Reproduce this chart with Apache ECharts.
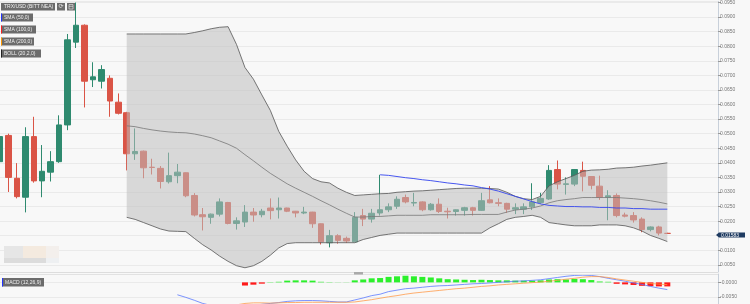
<!DOCTYPE html>
<html>
<head>
<meta charset="utf-8">
<script src="https://cdn.jsdelivr.net/npm/echarts@6.0.0/dist/echarts.min.js"></script>
<style>
html,body{margin:0;padding:0;background:#f8f8f8;}
#chart{width:750px;height:304px;}
</style>
</head>
<body>
<div id="chart"></div>
<script>
// ---- data ----
const categories = Array.from({length: 86}, (_, i) => String(i));

// [open, close, low, high]
const ohlc = [
 [0.0404,0.0490,0.0390,0.0500],[0.0494,0.0350,0.0300,0.0500],[0.0347,0.0284,0.0278,0.0399],[0.0282,0.0490,0.0230,0.0522],
 [0.0490,0.0338,0.0332,0.0558],[0.0338,0.0371,0.0282,0.0461],[0.0368,0.0404,0.0336,0.0440],[0.0404,0.0530,0.0400,0.0563],
 [0.0530,0.0822,0.0512,0.0842],[0.0814,0.0872,0.0794,0.0950],[0.0872,0.0680,0.0590,0.0875],[0.0685,0.0695,0.0660,0.0745],
 [0.0680,0.0720,0.0655,0.0735],[0.0690,0.0612,0.0558,0.0700],[0.0608,0.0570,0.0566,0.0638],[0.0572,0.0431,0.0374,0.0575],
 [0.0431,0.0439,0.0410,0.0518],[0.0440,0.0383,0.0347,0.0442],[0.0385,0.0384,0.0360,0.0414],[0.0381,0.0336,0.0312,0.0389],
 [0.0335,0.0356,0.0329,0.0435],[0.0356,0.0368,0.0330,0.0396],[0.0366,0.0287,0.0282,0.0367],[0.0288,0.0221,0.0216,0.0296],
 [0.0222,0.0215,0.0168,0.0245],[0.0213,0.0224,0.0191,0.0226],[0.0224,0.0266,0.0216,0.0278],[0.0264,0.0192,0.0189,0.0266],
 [0.0192,0.0201,0.0171,0.0213],[0.0197,0.0231,0.0180,0.0255],[0.0231,0.0221,0.0198,0.0245],[0.0222,0.0234,0.0213,0.0242],
 [0.0245,0.0236,0.0206,0.0278],[0.0239,0.0245,0.0209,0.0281],[0.0245,0.0234,0.0231,0.0246],[0.0234,0.0228,0.0213,0.0235],
 [0.0228,0.0231,0.0224,0.0249],[0.0231,0.0191,0.0177,0.0232],[0.0191,0.0129,0.0120,0.0192],[0.0126,0.0150,0.0110,0.0170],
 [0.0150,0.0134,0.0123,0.0155],[0.0141,0.0132,0.0125,0.0147],[0.0129,0.0213,0.0129,0.0231],[0.0219,0.0207,0.0183,0.0242],
 [0.0207,0.0227,0.0195,0.0242],[0.0228,0.0239,0.0219,0.0359],[0.0239,0.0249,0.0231,0.0261],[0.0251,0.0275,0.0242,0.0285],
 [0.0281,0.0266,0.0261,0.0291],[0.0262,0.0264,0.0251,0.0297],[0.0266,0.0239,0.0234,0.0268],[0.0239,0.0258,0.0236,0.0262],
 [0.0258,0.0233,0.0228,0.0278],[0.0234,0.0232,0.0209,0.0246],[0.0233,0.0239,0.0219,0.0240],[0.0237,0.0246,0.0219,0.0249],
 [0.0246,0.0237,0.0219,0.0249],[0.0237,0.0270,0.0235,0.0297],[0.0273,0.0263,0.0261,0.0320],[0.0263,0.0261,0.0251,0.0278],
 [0.0261,0.0241,0.0228,0.0263],[0.0241,0.0246,0.0224,0.0261],[0.0241,0.0249,0.0224,0.0261],[0.0249,0.0266,0.0238,0.0330],
 [0.0264,0.0278,0.0259,0.0297],[0.0276,0.0374,0.0273,0.0392],[0.0377,0.0327,0.0309,0.0408],[0.0326,0.0328,0.0291,0.0350],
 [0.0327,0.0377,0.0320,0.0378],[0.0374,0.0354,0.0302,0.0404],[0.0353,0.0323,0.0309,0.0354],[0.0320,0.0282,0.0273,0.0356],
 [0.0282,0.0287,0.0203,0.0306],[0.0288,0.0219,0.0213,0.0295],[0.0221,0.0217,0.0213,0.0229],[0.0219,0.0204,0.0195,0.0231],
 [0.0207,0.0171,0.0162,0.0213],[0.0171,0.0180,0.0165,0.0182],[0.0180,0.0159,0.0151,0.0184],[0.0158,0.0158,0.0156,0.0160]
];

const bollStart = 15;
const bollUpper = [
 0.0842,0.0842,0.0842,0.0842,0.0842,0.0842,0.0842,0.0842,0.0847,0.0853,0.0860,0.0865,0.0867,
 0.0806,0.0727,0.0687,0.0633,0.0580,0.0508,0.0457,0.0410,0.0371,0.0346,0.0335,0.0331,0.0313,0.0299,
 0.0288,0.0290,0.0292,0.0294,0.0295,0.0299,0.0301,0.0303,0.0304,0.0306,0.0308,0.0310,0.0312,0.0313,0.0313,0.0313,
 0.0312,0.0310,0.0299,0.0285,0.0277,0.0274,0.0285,
 0.0321,0.0335,0.0346,0.0357,0.0371,0.0375,0.0376,0.0378,0.0382,0.0383,0.0385,0.0389,0.0392,0.0396,0.0400
];
const bollMiddle = [
 0.0527,0.0524,0.0518,0.0513,0.0509,0.0506,0.0504,0.0503,0.0499,0.0493,0.0486,0.0475,0.0464,
 0.0450,0.0428,0.0407,0.0385,0.0364,0.0346,0.0328,0.0313,0.0299,0.0285,0.0270,0.0256,0.0241,0.0227,
 0.0214,0.0214,0.0216,0.0216,0.0218,0.0220,0.0220,0.0220,0.0220,0.0222,0.0222,0.0222,0.0222,0.0222,0.0223,0.0223,0.0223,0.0223,
 0.0231,0.0238,0.0241,0.0245,0.0252,0.0263,0.0270,0.0274,0.0277,0.0281,0.0281,0.0281,0.0281,0.0281,0.0279,0.0277,0.0274,0.0270,0.0265,0.0259
];
const bollLower = [
 0.0213,0.0206,0.0195,0.0184,0.0173,0.0166,0.0165,0.0164,0.0141,0.0119,0.0101,0.0080,0.0062,
 0.0047,0.0040,0.0047,0.0062,0.0083,0.0108,0.0123,0.0126,0.0126,0.0126,0.0126,0.0126,0.0126,0.0126,
 0.0126,0.0137,0.0144,0.0151,0.0155,0.0159,0.0159,0.0159,0.0159,0.0159,0.0159,0.0159,0.0159,0.0159,0.0159,0.0159,
 0.0177,0.0191,0.0206,0.0213,0.0216,0.0220,0.0213,0.0195,0.0191,0.0187,0.0184,0.0184,0.0184,0.0187,0.0187,0.0187,0.0184,0.0177,0.0166,0.0151,0.0141,0.0130
];

const sma50Start = 45;
const sma50 = [
 0.0359,0.0357,0.0353,0.0349,0.0346,0.0342,0.0339,0.0335,0.0331,0.0328,0.0324,0.0321,0.0315,0.0310,0.0303,0.0294,0.0285,
 0.0276,0.0267,0.0259,0.0254,0.0252,0.0250,0.0250,0.0249,0.0249,0.0247,0.0247,0.0245,0.0245,0.0243,0.0243,0.0241,0.0241,0.0241
];

const macdStart = 21;
const macdLine = [
 -0.0043,-0.0052,-0.0062,-0.0073,-0.0080,-0.0085,-0.0088,-0.0087,-0.0084,-0.0080,-0.0076,-0.0073,
 -0.0070,-0.0066,-0.0064,-0.0063,-0.0063,-0.0064,-0.0066,-0.0068,-0.0068,
 -0.0061,-0.0054,-0.0046,-0.0041,-0.0032,-0.0027,-0.0022,-0.0020,-0.0017,-0.0014,-0.0012,-0.0011,-0.0009,-0.0007,-0.0005,-0.0004,-0.0002,
 0.0000,0.0002,0.0004,0.0005,0.0007,0.0009,0.0013,0.0017,0.0021,0.0024,0.0025,0.0024,0.0020,0.0014,0.0009,0.0004,-0.0002,-0.0007,-0.0014,-0.0020,-0.0025
];
const signalStart = 27;
const signalLine = [
 -0.0085,-0.0078,-0.0073,-0.0071,-0.0071,-0.0072,-0.0071,-0.0070,-0.0070,-0.0069,-0.0069,-0.0069,-0.0069,-0.0069,-0.0069,
 -0.0068,-0.0064,-0.0060,-0.0055,-0.0050,-0.0046,-0.0041,-0.0037,-0.0034,-0.0031,-0.0028,-0.0025,-0.0022,-0.0020,-0.0017,-0.0014,
 -0.0012,-0.0009,-0.0007,-0.0005,-0.0003,-0.0001,0.0001,0.0004,0.0007,0.0011,0.0014,0.0018,0.0020,0.0020,0.0017,0.0012,0.0008,0.0004,0.0000,-0.0004,-0.0006,-0.0008
];
const histStart = 29;
const macdHist = [
 -0.0011,-0.0008,-0.00045,0.0001,0.0002,0.0006,0.0007,0.0007,0.0006,0.0002,0.0001,0.00005,0.00005,
 0.0007,0.0010,0.0014,0.0015,0.0019,0.0021,0.0023,0.0021,0.0019,0.0017,0.0014,0.0011,0.0010,0.0009,0.0008,0.0009,0.0008,0.0007,0.0007,0.0006,0.0006,0.0006,0.0007,
 0.0010,0.0011,0.0010,0.0012,0.0011,0.0008,0.0003,0.0002,
 -0.0005,-0.0007,-0.0009,-0.0012,-0.0013,-0.0014,-0.0014
];
const lastPriceLabel = '0.01583';

// ---- build ----
const N = categories.length;
function pad(start, arr) {
  const out = new Array(N).fill(null);
  arr.forEach((v, k) => { out[start + k] = v; });
  return out;
}
const upperFull = pad(bollStart, bollUpper);
const lowerFull = pad(bollStart, bollLower);
const bandFull = upperFull.map((u, i) => u == null ? null : +(u - lowerFull[i]).toFixed(6));

const FONT = 'Liberation Sans, Arial, sans-serif';
const chart = echarts.init(document.getElementById('chart'), null, {renderer: 'canvas'});

function legendBox(x, y, w, h, text, barColor) {
  const els = [{type: 'rect', shape: {x: x, y: y, width: w, height: h}, style: {fill: 'rgba(88,88,88,0.88)'}, z: 100}];
  if (barColor) els.push({type: 'rect', shape: {x: x, y: y, width: 1, height: h}, style: {fill: barColor}, z: 101});
  els.push({type: 'text', x: x + 3, y: y + h / 2, style: {text: text, fill: '#f0f0f0', font: '5px ' + FONT, verticalAlign: 'middle'}, z: 102});
  return els;
}

const graphics = [].concat(
  legendBox(1, 3, 54, 7.5, 'TRX/USD (BITT NEA)', null),
  [{type: 'rect', shape: {x: 57, y: 3, width: 8, height: 7.5}, style: {fill: 'rgba(88,88,88,0.88)'}, z: 100},
   {type: 'text', x: 61, y: 6.8, style: {text: '⟳', fill: '#eee', font: '6px DejaVu Sans', align: 'center', verticalAlign: 'middle'}, z: 102},
   {type: 'rect', shape: {x: 67, y: 3, width: 8, height: 7.5}, style: {fill: 'rgba(88,88,88,0.88)'}, z: 100},
   {type: 'rect', shape: {x: 69, y: 4.5, width: 4, height: 4.5}, style: {fill: 'none', stroke: '#eee', lineWidth: 0.6}, z: 102},
   {type: 'line', shape: {x1: 69, y1: 6.3, x2: 73, y2: 6.3}, style: {stroke: '#eee', lineWidth: 0.6}, z: 102}],
  legendBox(1, 13.5, 32, 8, 'SMA (50,0)', '#2233ff'),
  legendBox(1, 25.5, 35, 8, 'SMA (100,0)', '#ff2020'),
  legendBox(1, 37.5, 33, 8, 'SMA (200,0)', '#ff9900'),
  legendBox(1, 49.5, 40, 8, 'BOLL (20,2,0)', '#222222'),
  legendBox(2, 278, 42, 8.5, 'MACD (12,26,9)', '#2233ff'),
  [
   {type: 'line', shape: {x1: 0, y1: 272.5, x2: 718, y2: 272.5}, style: {stroke: '#dddddd', lineWidth: 1}, z: 60},
   {type: 'line', shape: {x1: 0, y1: 274.5, x2: 718, y2: 274.5}, style: {stroke: '#e2e2e2', lineWidth: 1}, z: 60},
   {type: 'rect', shape: {x: 354, y: 272, width: 9, height: 2.5}, style: {fill: '#aaaaaa'}, z: 61},
   {type: 'polygon', shape: {points: [[716, 235], [719, 232.5], [745, 232.5], [745, 237.5], [719, 237.5]]}, style: {fill: '#1f3b61'}, z: 100},
   {type: 'text', x: 721, y: 235.2, style: {text: lastPriceLabel, fill: '#ffffff', font: '5px ' + FONT, verticalAlign: 'middle'}, z: 101},
   {type: 'rect', shape: {x: 4, y: 246, width: 19, height: 12}, style: {fill: '#e6e6e6'}, z: 1},
   {type: 'rect', shape: {x: 23, y: 246, width: 23, height: 12}, style: {fill: '#f4eadf'}, z: 1},
   {type: 'rect', shape: {x: 46, y: 246, width: 13, height: 12}, style: {fill: '#f3efec'}, z: 1},
   {type: 'rect', shape: {x: 4, y: 258, width: 42, height: 5}, style: {fill: '#dcdcdc'}, z: 1},
   {type: 'rect', shape: {x: 46, y: 258, width: 13, height: 5}, style: {fill: '#eef0f2'}, z: 1}
  ]
);

const option = {
  animation: false,
  backgroundColor: '#f8f8f8',
  textStyle: {fontFamily: FONT},
  grid: [
    {left: 0, right: 32, top: 0, height: 272},
    {left: 0, right: 32, top: 274, height: 30}
  ],
  xAxis: [
    {type: 'category', gridIndex: 0, data: categories, boundaryGap: false, show: false},
    {type: 'category', gridIndex: 1, data: categories, boundaryGap: false, show: false}
  ],
  yAxis: [
    {type: 'value', gridIndex: 0, position: 'right', min: 0.00255, max: 0.0954, splitNumber: 18,
     minInterval: 0.005, maxInterval: 0.005,
     axisLine: {show: true, lineStyle: {color: '#c8d0da', width: 1}},
     axisTick: {show: true, length: 3, lineStyle: {color: '#999'}},
     axisLabel: {fontSize: 5, color: '#777', margin: 2, showMinLabel: false, showMaxLabel: false,
                 formatter: v => v.toFixed(4)},
     splitLine: {show: true, lineStyle: {color: '#eaeaea', width: 1}}},
    {type: 'value', gridIndex: 1, position: 'right', min: -0.0075, max: 0.0029, splitNumber: 2,
     minInterval: 0.005, maxInterval: 0.005,
     axisLine: {show: true, lineStyle: {color: '#c8d0da', width: 1}},
     axisTick: {show: true, length: 3, lineStyle: {color: '#999'}},
     axisLabel: {fontSize: 5, color: '#777', margin: 2, showMinLabel: false, showMaxLabel: false,
                 formatter: v => (v <= 0 ? '-' : '') + Math.abs(v).toFixed(4)},
     splitLine: {show: true, lineStyle: {color: '#eaeaea', width: 1}}}
  ],
  series: [
    {type: 'candlestick', xAxisIndex: 0, yAxisIndex: 0, data: ohlc, barWidth: 6, z: 2,
     itemStyle: {color: '#2e8a6f', color0: '#da5446', borderColor: '#2e8a6f', borderColor0: '#da5446', borderWidth: 1}},
    {type: 'line', name: 'lower', xAxisIndex: 0, yAxisIndex: 0, data: lowerFull, stack: 'boll', symbol: 'none', z: 3,
     lineStyle: {color: '#555', width: 0.8}},
    {type: 'line', name: 'band', xAxisIndex: 0, yAxisIndex: 0, data: bandFull, stack: 'boll', symbol: 'none', z: 3,
     lineStyle: {color: '#555', width: 0.8}, areaStyle: {color: 'rgba(190,190,190,0.55)', opacity: 1}},
    {type: 'line', name: 'middle', xAxisIndex: 0, yAxisIndex: 0, data: pad(bollStart, bollMiddle), symbol: 'none', z: 4,
     lineStyle: {color: '#777', width: 0.8}},
    {type: 'line', name: 'sma50', xAxisIndex: 0, yAxisIndex: 0, data: pad(sma50Start, sma50), symbol: 'none', z: 5,
     lineStyle: {color: '#3344ee', width: 0.9}},
    {type: 'bar', xAxisIndex: 1, yAxisIndex: 1, data: pad(histStart, macdHist), barWidth: 6, z: 2,
     itemStyle: {color: p => p.value >= 0 ? '#2cf02c' : '#ff1a1a'}},
    {type: 'line', xAxisIndex: 1, yAxisIndex: 1, data: pad(macdStart, macdLine), symbol: 'none', z: 3,
     lineStyle: {color: '#5a78ff', width: 0.8}},
    {type: 'line', xAxisIndex: 1, yAxisIndex: 1, data: pad(signalStart, signalLine), symbol: 'none', z: 3,
     lineStyle: {color: '#ff9a4a', width: 0.8}}
  ],
  graphic: graphics
};
chart.setOption(option);
</script>
</body>
</html>
